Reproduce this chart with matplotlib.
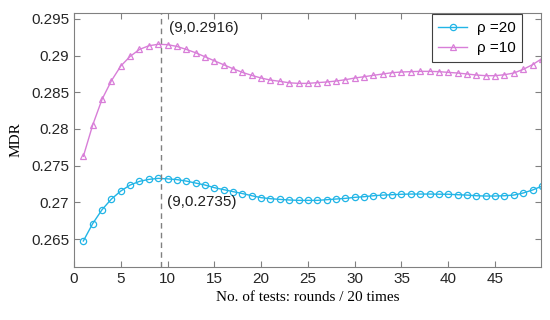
import numpy as np
import matplotlib.pyplot as plt

rounds = np.arange(1, 51)
mdr_rho20 = [0.26473, 0.2671, 0.2690, 0.27045, 0.27154, 0.27236, 0.27286, 0.27313, 0.27327, 0.2732,
             0.2731, 0.2729, 0.27263, 0.27236, 0.2720, 0.27173, 0.27146, 0.2712, 0.2709, 0.27064,
             0.2705, 0.2704, 0.27032, 0.27027, 0.27027, 0.27027, 0.27036, 0.27045, 0.27054, 0.27068,
             0.27077, 0.2709, 0.27099, 0.27104, 0.2711, 0.27113, 0.27113, 0.27113, 0.27111, 0.2711,
             0.27104, 0.27099, 0.2709, 0.27086, 0.27086, 0.2709, 0.27099, 0.27127, 0.27168, 0.2722]
mdr_rho10 = [0.27627, 0.28054, 0.28405, 0.28658, 0.28858, 0.2899, 0.29085, 0.29135, 0.29155, 0.2915,
             0.29126, 0.29085, 0.2904, 0.28985, 0.2893, 0.28876, 0.28822, 0.28772, 0.28731, 0.28695,
             0.28667, 0.2865, 0.2863, 0.28622, 0.28622, 0.28632, 0.28641, 0.28654, 0.28672, 0.28695,
             0.28713, 0.28732, 0.2875, 0.28768, 0.28777, 0.28782, 0.28786, 0.28786, 0.28782, 0.28772,
             0.28763, 0.2875, 0.28736, 0.28727, 0.28727, 0.2874, 0.28763, 0.28813, 0.28877, 0.28959]
peak_x = 9.3
label_hi = '(9,0.2916)'
label_lo = '(9,0.2735)'

fig = plt.figure(figsize=(5.5, 3.2), dpi=100)
ax = fig.add_axes([0.1345, 0.166, 0.849, 0.793])

c20 = '#22b5e6'
c10 = '#d87ed8'
ax.plot(rounds, mdr_rho20, '-o', color=c20, mfc='none', ms=4.5, lw=1.0, mew=0.9, label='ρ =20')
ax.plot(rounds, mdr_rho10, '-^', color=c10, mfc='none', ms=5, lw=1.0, mew=0.9, label='ρ =10')
ax.axvline(peak_x, color='#808080', ls='--', lw=1.0, dashes=(4, 3))

ax.text(10.2, 0.2938, label_hi, fontsize=11, family='Liberation Sans', va='center', color='#202020')
ax.text(9.9, 0.2700, label_lo, fontsize=11, family='Liberation Sans', va='center', color='#202020')

ax.set_xlim(0, 49.9)
ax.set_ylim(0.2612, 0.2958)
ax.set_xticks(np.arange(0, 50, 5))
ax.set_yticks([0.265, 0.27, 0.275, 0.28, 0.285, 0.29, 0.295])
ax.set_yticklabels(['0.265', '0.27', '0.275', '0.28', '0.285', '0.29', '0.295'])
ax.tick_params(direction='in', top=True, right=True, labelsize=11, color='#808080', length=4.5,
               labelcolor='#262626')
for lab in ax.get_xticklabels() + ax.get_yticklabels():
    lab.set_family('Liberation Sans')
for s in ax.spines.values():
    s.set_color('#808080')
    s.set_linewidth(0.8)

ax.set_xlabel('No. of tests: rounds / 20 times', family='Liberation Serif', fontsize=11)
ax.set_ylabel('MDR', family='Liberation Serif', fontsize=11, labelpad=6)

leg = ax.legend(loc='upper right', bbox_to_anchor=(0.96, 0.996), borderaxespad=0,
                prop={'family': 'Liberation Sans', 'size': 11}, fancybox=False,
                edgecolor='#404040', framealpha=1, handlelength=1.9, handletextpad=0.6,
                borderpad=0.45, labelspacing=0.4)
leg.get_frame().set_linewidth(0.8)

fig.savefig('out.png', dpi=100)
